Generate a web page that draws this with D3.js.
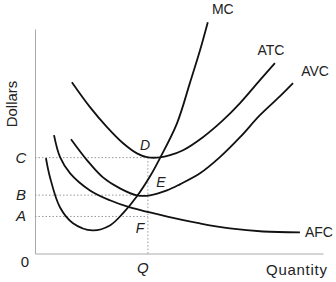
<!DOCTYPE html>
<html>
<head>
<meta charset="utf-8">
<script src="https://cdn.jsdelivr.net/npm/d3@7"></script>
<style>
  body { margin: 0; background: #fff; }
  text { font-family: "Liberation Sans", Arial, sans-serif; fill: #222; }
</style>
</head>
<body>
<div id="chart"></div>
<script>
// cost curves (quantity, dollars)
const mcPoints = [[0.38,4.25],[0.52,3.4],[0.87,2.05],[1.32,1.35],[2.0,1.03],[2.6,1.25],[3.06,1.8],
                  [3.54,2.55],[4.0,3.45],[4.34,4.25],[4.93,5.8],[5.38,7.6],[5.73,9.05],[6.0,10.3]]
const atcPoints = [[1.28,7.63],[1.91,6.52],[2.5,5.63],[3.06,4.91],[3.54,4.46],[3.89,4.29],[4.34,4.28],
                   [4.69,4.38],[5.14,4.6],[5.83,5.18],[6.53,5.94],[7.12,6.7],[7.81,7.72],[8.33,8.48]]
const avcPoints = [[1.25,5.09],[1.81,4.15],[2.36,3.39],[2.95,2.9],[3.54,2.59],[3.99,2.59],[4.58,2.81],
                   [5.03,3.08],[5.73,3.57],[6.42,4.29],[7.12,5.18],[7.81,6.16],[8.51,7.01],[8.96,7.59]]
const afcPoints = [[0.66,5.27],[0.87,4.29],[1.22,3.57],[1.91,2.81],[2.6,2.37],[3.3,2.05],[3.99,1.83],
                   [5.03,1.52],[5.73,1.34],[6.77,1.12],[7.92,0.98],[9.2,0.94]]
const curveNames = ["MC", "ATC", "AVC", "AFC"]
const priceLabels = ["C", "B", "A"]
const priceValues = [4.27, 2.6, 1.65]
const quantityLabel = "Q"
const quantityValue = 3.92

const width = 336, height = 282

let svg = d3.select("#chart")
            .append("svg")
            .attr("width", width)
            .attr("height", height)

let x = d3.scaleLinear().domain([0, 10]).range([35, 323])
let y = d3.scaleLinear().domain([0, 10]).range([253.5, 29])

// axes: plain gray lines, no ticks
svg.append("g")
   .attr("transform", "translate(0," + y(0) + ")")
   .call(d3.axisBottom(x).ticks(0).tickSizeOuter(0))
   .select(".domain").attr("stroke", "#aaa")
svg.append("g")
   .attr("transform", "translate(" + x(0) + ",0)")
   .call(d3.axisLeft(y).ticks(0).tickSizeOuter(0))
   .select(".domain").attr("stroke", "#aaa")

// dotted guide lines
priceValues.forEach(function(v) {
  svg.append("line")
     .attr("x1", x(0)).attr("x2", x(quantityValue))
     .attr("y1", y(v)).attr("y2", y(v))
     .attr("stroke", "#999").attr("stroke-width", 1)
     .attr("stroke-dasharray", "1.5,2")
})
svg.append("line")
   .attr("x1", x(quantityValue)).attr("x2", x(quantityValue))
   .attr("y1", y(priceValues[0])).attr("y2", y(0))
   .attr("stroke", "#999").attr("stroke-width", 1)
   .attr("stroke-dasharray", "1.5,2")

let line = d3.line()
             .x(function(d) { return x(d[0]) })
             .y(function(d) { return y(d[1]) })
             .curve(d3.curveCatmullRom.alpha(0.5))

const curves = [mcPoints, atcPoints, avcPoints, afcPoints]
curves.forEach(function(pts) {
  svg.append("path")
     .datum(pts)
     .attr("fill", "none")
     .attr("stroke", "#111")
     .attr("stroke-width", 1.8)
     .attr("d", line)
})

// curve labels, placed off each curve's end
const labelOffsets = [[15, -8, "middle"], [-4, -8, "middle"], [22, -7, "middle"], [5, 5, "start"]]
curves.forEach(function(pts, i) {
  let end = pts[pts.length - 1]
  svg.append("text")
     .attr("x", x(end[0]) + labelOffsets[i][0])
     .attr("y", y(end[1]) + labelOffsets[i][1])
     .attr("text-anchor", labelOffsets[i][2])
     .attr("font-size", 14)
     .text(curveNames[i])
})

// price labels on the y axis
priceLabels.forEach(function(l, i) {
  svg.append("text")
     .attr("x", 21)
     .attr("y", y(priceValues[i]) + 5)
     .attr("text-anchor", "middle")
     .attr("font-size", 15)
     .attr("font-style", "italic")
     .text(l)
})
svg.append("text")
   .attr("x", 25).attr("y", 267)
   .attr("text-anchor", "middle")
   .attr("font-size", 15)
   .text("0")
svg.append("text")
   .attr("x", x(quantityValue) - 5).attr("y", 273)
   .attr("text-anchor", "middle")
   .attr("font-size", 15)
   .attr("font-style", "italic")
   .text(quantityLabel)

// intersection letters
svg.append("text").attr("x", 145).attr("y", 150).attr("text-anchor", "middle")
   .attr("font-size", 14).attr("font-style", "italic").text("D")
svg.append("text").attr("x", 161).attr("y", 187).attr("text-anchor", "middle")
   .attr("font-size", 14).attr("font-style", "italic").text("E")
svg.append("text").attr("x", 140).attr("y", 233).attr("text-anchor", "middle")
   .attr("font-size", 14).attr("font-style", "italic").text("F")

// axis titles
svg.append("text")
   .attr("x", 327).attr("y", 275)
   .attr("text-anchor", "end")
   .attr("font-size", 15)
   .attr("textLength", 61)
   .text("Quantity")
svg.append("text")
   .attr("transform", "translate(17,104) rotate(-90)")
   .attr("text-anchor", "middle")
   .attr("font-size", 15)
   .text("Dollars")
</script>
</body>
</html>
